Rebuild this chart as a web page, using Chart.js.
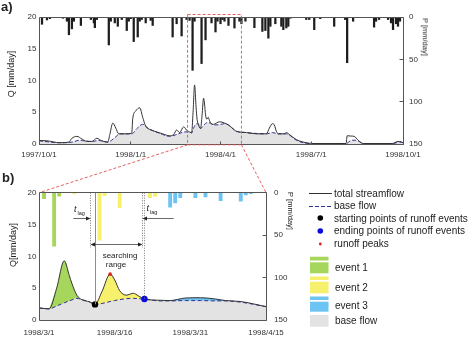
<!DOCTYPE html>
<html><head><meta charset="utf-8">
<script src="https://cdn.jsdelivr.net/npm/chart.js@4/dist/chart.umd.min.js"></script>
<style>
html,body{margin:0;padding:0;background:#fff;}
#wrap{position:relative;width:474px;height:341px;overflow:hidden;font-family:"Liberation Sans",Arial,sans-serif;color:#222;}
canvas{position:absolute;left:0;}
.t{position:absolute;white-space:nowrap;line-height:1;}
.c{transform:translate(-50%,-50%);}
.rl{transform:translate(-50%,-50%) rotate(-90deg);}
.rr{transform:translate(-50%,-50%) rotate(90deg);}
.lg{position:absolute;left:334px;font-size:10px;line-height:1;transform:translateY(-50%);white-space:nowrap;color:#222;}
</style></head><body>
<div id="wrap">
<canvas id="ca" width="474" height="170" style="top:0"></canvas>
<canvas id="cb" width="474" height="171" style="top:170px"></canvas>
<canvas id="ov" width="474" height="341" style="top:0;pointer-events:none"></canvas>
<div class="t" style="left:1px;top:0px;font-size:13px;font-weight:bold">a)</div>
<div class="t" style="left:2px;top:171px;font-size:13px;font-weight:bold">b)</div>
<div class="t rl" style="left:11px;top:74px;font-size:9px">Q [mm/day]</div>
<div class="t rr" style="left:425px;top:37px;font-size:7.5px">P [mm/day]</div>
<div class="t rl" style="left:13px;top:245px;font-size:9px">Q[mm/day]</div>
<div class="t rr" style="left:290px;top:211px;font-size:7.5px">P [mm/day]</div>
<div class="t" style="left:74px;top:205px;font-size:9px;font-style:italic">t</div>
<div class="t" style="left:77.5px;top:210.5px;font-size:5.5px">lag</div>
<div class="t" style="left:146.5px;top:204px;font-size:9px;font-style:italic">t</div>
<div class="t" style="left:150px;top:209.5px;font-size:5.5px">lag</div>
<div class="t c" style="left:120px;top:256px;font-size:8px">searching</div>
<div class="t c" style="left:116px;top:264.5px;font-size:8px">range</div>
<div class="lg" style="top:193.5px">total streamflow</div>
<div class="lg" style="top:206px">base flow</div>
<div class="lg" style="top:218.5px">starting points of runoff events</div>
<div class="lg" style="top:231px">ending points of runoff events</div>
<div class="lg" style="top:244px">runoff peaks</div>
<div class="lg" style="top:267.5px;left:335px">event 1</div>
<div class="lg" style="top:287.5px;left:335px">event 2</div>
<div class="lg" style="top:306px;left:335px">event 3</div>
<div class="lg" style="top:321px;left:335px">base flow</div>
</div>
<script>
// ---------- Panel a data (day 0 = 1997/10/1) ----------
const aTickDays = [0, 92, 182, 273, 365];
const aTickLabels = ['1997/10/1', '1998/1/1', '1998/4/1', '1998/7/1', '1998/10/1'];
const aQDays = [0,8,21,30,33,38,43,47,53,58,63,69,71,74,77,80,87,93,94,97,101,104,107,111,116,124,131,135,138,141,145,149,151,153,154.5,156,157.5,158.5,159.5,162,163.5,165,166,167,168.3,169.7,170.7,172,175,181,186,190,196,198,208,218,228,231,234,236,238,240,246,248,251,258,265,275,308,309,313,316,320,325,354,360,363,365];
const aQ = [0.55,0.5,0.2,0.3,0.9,1.2,0.8,0.45,0.4,0.9,0.5,0.3,1.5,3.3,2.5,1.6,1.6,1.7,4.0,5.2,5.7,4.2,2.8,2.3,2.0,1.6,1.3,1.5,2.2,1.8,2.7,2.0,1.9,1.75,5.0,9.3,5.8,3.9,3.2,2.45,4.5,7.2,6.3,4.6,3.9,4.2,3.8,3.3,3.1,3.5,3.3,3.0,2.2,2.0,1.8,1.6,1.6,2.5,3.2,3.0,2.0,1.6,1.6,1.8,1.5,0.7,0.3,0.08,0.08,1.3,1.25,1.2,0.6,0.08,0.08,0.4,0.35,0.2];
const aBaseDays = [0,21,33,41,47,53,60,69,76,81,93,98,104,110,116,124,131,138,146,151,153,155,157.5,159.5,162,165,168.3,172,175,181,186,190,196,198,208,228,234,240,248,258,265,275,308,312,316,320,325,354,362,365];
const aBase = [0.5,0.2,0.3,0.6,0.45,0.4,0.55,0.3,1.0,1.6,1.6,2.4,3.1,2.4,2.0,1.5,1.2,1.5,1.9,1.9,1.75,2.5,3.15,3.2,2.45,2.9,3.35,3.3,3.0,3.05,3.2,3.0,2.2,2.0,1.8,1.6,1.8,1.6,1.6,0.6,0.2,0.05,0.05,0.5,0.6,0.5,0.05,0.05,0.3,0.2];
const aPDays = [3,8,11,24,28,30,33,35,42,52,55,56,58,70,72,76,79,83,88,90,92,95,99,101,103,107,112,114,134,138,143,148,151,154,156,163,167,173,177,179,182,184,186,190,196,201,203,207,216,224,227,230,232,237,243,245,248,250,252,268,271,276,282,296,307,309,315,336,338,341,350,353,355,358,360,362];
const aP = [8.6,3.5,2,1.5,5,21,14,5,10,3,7,12.6,3,33,5,7,11,3,16,5,2,29,23.6,5,3,7,4,10,23.6,8,22.4,3,4,63,5,55,27,7,17.7,5,8,3,5,10,13,5,8,5,12.6,17,16,25,11,8,11,15,13,11,1.5,3,3,15,2,11,3,54,5,12,5,3,3,7,15,8,11,5];
const qTicks = [0, 5, 10, 15, 20];
const pTicks = [0, 50, 100, 150];

// ---------- Panel b data (day 0 = 1998/3/1) ----------
const bTickDays = [0, 15, 30, 45];
const bTickLabels = ['1998/3/1', '1998/3/16', '1998/3/31', '1998/4/15'];
const bDays = [0,2,3.5,5,6,6.5,7.5,8.5,10,11.1,12.5,14.1,15,16,17.3,18.7,19.7,20.9,24,26,29,32,35,37,40,45];
const bQ    = [1.9,1.75,5.0,9.3,7.0,5.8,3.9,3.2,2.85,2.45,4.5,7.2,6.3,4.6,3.9,4.2,3.8,3.3,3.1,3.05,3.45,3.5,3.3,3.05,2.9,2.1];
const bBase = [1.9,1.75,2.2,2.7,3.0,3.15,3.4,3.2,2.85,2.45,2.6,2.9,3.05,3.2,3.35,3.4,3.35,3.3,3.0,3.0,3.05,3.05,3.0,3.0,2.8,2.1];
const bEventStart = [2, 11.1, 26];
const bEventEnd = [8.5, 20.9, 37];
const bGreenDays = [1, 3, 4];
const bGreenP = [7, 63, 4];
const bYellowDays = [7, 12, 13, 16, 22, 23];
const bYellowP = [1.5, 56, 3.5, 17.6, 6, 4.5];
const bBlueDays = [26, 27, 28, 31, 33, 36, 40, 41, 42];
const bBlueP = [17, 12, 6, 6, 5, 9.5, 10, 2.5, 1];
const bStartDay = [11.1], bStartQ = [2.45];
const bEndDay = [20.9], bEndQ = [3.3];
const bPeakDay = [14.1], bPeakQ = [7.2];

// ---------- styles ----------
const GREEN = '#a6d65c', YELLOW = '#f6f06c', BLUE = '#6dc3f2', GRAY = '#e3e3e3';
const QCOL = '#333333', BASECOL = '#2e3192';
Chart.defaults.font.family = '"Liberation Sans", Arial, sans-serif';
Chart.defaults.color = '#333';

const pts = (xs, ys) => xs.map((x, i) => ({x: x, y: ys[i]}));

const framePlugin = {
  id: 'frame',
  afterDatasetsDraw(chart, args, opts) {
    const ctx = chart.ctx, a = chart.chartArea;
    const L = Math.floor(a.left) + 0.5, R = Math.floor(a.right) + 0.5, T = Math.floor(a.top) + 0.5, B = Math.floor(a.bottom) + 0.5;
    ctx.save();
    ctx.strokeStyle = '#555'; ctx.lineWidth = 1;
    ctx.beginPath();
    ctx.moveTo(L, T); ctx.lineTo(R, T); ctx.lineTo(R, B); ctx.lineTo(L, B); ctx.closePath();
    const y2 = chart.scales.y2, xs = chart.scales.x;
    pTicks.forEach(v => { const p = Math.floor(y2.getPixelForValue(v)) + 0.5; ctx.moveTo(R - 4, p); ctx.lineTo(R, p); });
    (opts.xt || []).forEach(v => { const p = Math.floor(xs.getPixelForValue(v)) + 0.5; ctx.moveTo(p, B); ctx.lineTo(p, B - 3); });
    ctx.stroke();
    ctx.restore();
  }
};

function scalesFor(xMax, tickDays, tickLabels, leftW, rightW, botH, xPad, rPad) {
  return {
    x: {type: 'linear', min: 0, max: xMax, offset: false,
      grid: {display: false, drawTicks: false}, border: {display: false},
      afterBuildTicks: s => { s.ticks = tickDays.map(v => ({value: v})); },
      afterFit: s => { s.height = botH; },
      ticks: {autoSkip: false, maxRotation: 0, padding: xPad, font: {size: 8}, color: '#333',
        callback: v => { const i = tickDays.indexOf(v); return i >= 0 ? tickLabels[i] : ''; }}},
    y: {type: 'linear', position: 'left', min: 0, max: 20,
      grid: {display: false, drawTicks: false}, border: {display: false},
      afterBuildTicks: s => { s.ticks = qTicks.map(v => ({value: v})); },
      afterFit: s => { s.width = leftW; },
      ticks: {padding: 2.5, font: {size: 8}, color: '#333'}},
    y2: {type: 'linear', position: 'right', min: 0, max: 150, reverse: true,
      grid: {display: false, drawTicks: false}, border: {display: false},
      afterBuildTicks: s => { s.ticks = pTicks.map(v => ({value: v})); },
      afterFit: s => { s.width = rightW; },
      ticks: {padding: rPad, font: {size: 8}, color: '#333'}}
  };
}

const common = {
  responsive: false, animation: false, events: [],
  plugins: {legend: {display: false}, tooltip: {enabled: false}}
};

// ---------- Chart a ----------
const chartA = new Chart(document.getElementById('ca'), {
  type: 'line',
  data: {datasets: [
    {data: pts(aBaseDays, aBase), yAxisID: 'y', borderWidth: 0, backgroundColor: GRAY, fill: 'origin', pointRadius: 0, cubicInterpolationMode: 'monotone', order: 10},
    {type: 'bar', data: pts(aPDays, aP), yAxisID: 'y2', backgroundColor: '#1e1e1e', barThickness: 1.6, order: 5},
    {data: pts(aBaseDays, aBase), yAxisID: 'y', borderColor: BASECOL, borderWidth: 1, borderDash: [4, 2], fill: false, pointRadius: 0, cubicInterpolationMode: 'monotone', order: 2},
    {data: pts(aQDays, aQ), yAxisID: 'y', borderColor: QCOL, borderWidth: 1, fill: false, pointRadius: 0, cubicInterpolationMode: 'monotone', order: 1}
  ]},
  options: Object.assign({}, common, {
    layout: {padding: {top: 17, left: 0, right: 0, bottom: 0}},
    scales: scalesFor(365, aTickDays, aTickLabels, 39, 71, 26, 5.5, 6),
    plugins: Object.assign({}, common.plugins, {frame: {xt: aTickDays}})
  }),
  plugins: [framePlugin]
});

// ---------- Chart b ----------
const evPts = (k) => pts(bDays, bQ).filter(p => p.x >= bEventStart[k] && p.x <= bEventEnd[k]);
const bAnn = {
  id: 'bann',
  afterDatasetsDraw(chart) {
    const ctx = chart.ctx, a = chart.chartArea, xs = chart.scales.x, ys = chart.scales.y;
    const px = d => xs.getPixelForValue(d), py = q => ys.getPixelForValue(q);
    const line = (x1, y1, x2, y2) => { ctx.beginPath(); ctx.moveTo(x1, y1); ctx.lineTo(x2, y2); ctx.stroke(); };
    const head = (x, y, dir) => { ctx.beginPath(); ctx.moveTo(x, y); ctx.lineTo(x - dir * 4.5, y - 2); ctx.lineTo(x - dir * 4.5, y + 2); ctx.closePath(); ctx.fill(); };
    ctx.save();
    ctx.strokeStyle = '#8c8c8c'; ctx.lineWidth = 1;
    const xs0 = Math.round(px(bStartDay[0])) + 0.5;
    line(xs0, a.top, xs0, py(bStartQ[0]));
    ctx.setLineDash([1, 1.5]); ctx.strokeStyle = '#7a7a7a';
    const xd1 = Math.round(px(10.1)) + 0.5, xd2 = Math.round(px(20.4)) + 0.5, xd3 = Math.round(px(bEndDay[0])) + 0.5;
    line(xd1, a.top, xd1, py(11.3));
    line(xd2, a.top, xd2, py(11.3));
    line(xd3, a.top, xd3, py(bEndQ[0]));
    ctx.setLineDash([]);
    ctx.strokeStyle = '#444'; ctx.fillStyle = '#222'; ctx.lineWidth = 0.8;
    const yl = Math.round(py(16)) + 0.5, ys2 = Math.round(py(12)) + 0.5;
    line(px(6.8), yl, xd1 - 2, yl); head(xd1, yl, 1);
    line(px(26.7), yl, xd2 + 2, yl); head(xd2, yl, -1);
    line(xd1 + 2, ys2, xd2 - 2, ys2); head(xd1, ys2, -1); head(xd2, ys2, 1);
    ctx.restore();
  }
};

const chartB = new Chart(document.getElementById('cb'), {
  type: 'line',
  data: {datasets: [
    {data: pts(bDays, bBase), yAxisID: 'y', borderWidth: 0, backgroundColor: GRAY, fill: 'origin', pointRadius: 0, cubicInterpolationMode: 'monotone', order: 10},
    {data: evPts(0), yAxisID: 'y', borderWidth: 0, backgroundColor: GREEN, fill: {target: 0}, pointRadius: 0, cubicInterpolationMode: 'monotone', order: 9},
    {data: evPts(1), yAxisID: 'y', borderWidth: 0, backgroundColor: YELLOW, fill: {target: 0}, pointRadius: 0, cubicInterpolationMode: 'monotone', order: 9},
    {data: evPts(2), yAxisID: 'y', borderWidth: 0, backgroundColor: BLUE, fill: {target: 0}, pointRadius: 0, cubicInterpolationMode: 'monotone', order: 9},
    {type: 'bar', data: pts(bGreenDays, bGreenP), yAxisID: 'y2', backgroundColor: GREEN, barThickness: 3.2, grouped: false, order: 5},
    {type: 'bar', data: pts(bYellowDays, bYellowP), yAxisID: 'y2', backgroundColor: YELLOW, barThickness: 3.2, grouped: false, order: 5},
    {type: 'bar', data: pts(bBlueDays, bBlueP), yAxisID: 'y2', backgroundColor: BLUE, barThickness: 3.2, grouped: false, order: 5},
    {data: pts(bDays, bBase), yAxisID: 'y', borderColor: BASECOL, borderWidth: 1, borderDash: [4, 2.5], fill: false, pointRadius: 0, cubicInterpolationMode: 'monotone', order: 2},
    {data: pts(bDays, bQ), yAxisID: 'y', borderColor: QCOL, borderWidth: 1, fill: false, pointRadius: 0, cubicInterpolationMode: 'monotone', order: 1},
    {data: pts(bStartDay, bStartQ), yAxisID: 'y', showLine: false, pointRadius: 3.2, pointBackgroundColor: '#000', pointBorderWidth: 0, order: 0},
    {data: pts(bEndDay, bEndQ), yAxisID: 'y', showLine: false, pointRadius: 3.2, pointBackgroundColor: '#0a0ae0', pointBorderWidth: 0, order: 0},
    {data: pts(bPeakDay, bPeakQ), yAxisID: 'y', showLine: false, pointRadius: 1.8, pointBackgroundColor: '#e02020', pointBorderWidth: 0, order: 0}
  ]},
  options: Object.assign({}, common, {
    layout: {padding: {top: 22.7, left: 0, right: 0, bottom: 0}},
    scales: scalesFor(45, bTickDays, bTickLabels, 39, 208, 21, 7.7, 8),
    plugins: Object.assign({}, common.plugins, {frame: {xt: []}})
  }),
  plugins: [bAnn, framePlugin]
});

// ---------- overlay: zoom box, connectors, legend markers ----------
(function () {
  const ctx = document.getElementById('ov').getContext('2d');
  const xa = chartA.scales.x, aa = chartA.chartArea, ab = chartB.chartArea;
  const L = xa.getPixelForValue(149), R = xa.getPixelForValue(203);
  const T = aa.top - 2.5, B = aa.bottom + 0.8;
  const BT = 170 + ab.top;
  ctx.save();
  ctx.strokeStyle = '#e2514c'; ctx.lineWidth = 0.9; ctx.setLineDash([3, 2]);
  ctx.strokeRect(L, T, R - L, B - T);
  ctx.beginPath(); ctx.moveTo(L, B); ctx.lineTo(ab.left, BT); ctx.stroke();
  ctx.beginPath(); ctx.moveTo(R, B); ctx.lineTo(ab.right, BT); ctx.stroke();
  ctx.restore();

  ctx.save();
  ctx.strokeStyle = QCOL; ctx.lineWidth = 1;
  ctx.beginPath(); ctx.moveTo(309, 193.5); ctx.lineTo(332, 193.5); ctx.stroke();
  ctx.strokeStyle = BASECOL; ctx.setLineDash([4, 2]);
  ctx.beginPath(); ctx.moveTo(309, 206.5); ctx.lineTo(332, 206.5); ctx.stroke();
  ctx.setLineDash([]);
  const dot = (x, y, r, c) => { ctx.fillStyle = c; ctx.beginPath(); ctx.arc(x, y, r, 0, Math.PI * 2); ctx.fill(); };
  dot(320.3, 218, 2.8, '#000');
  dot(320.3, 231, 2.8, '#0a0ae0');
  dot(320.3, 244, 1.4, '#e02020');
  ctx.fillStyle = GREEN; ctx.fillRect(310, 256.7, 18.5, 3.8); ctx.fillRect(310, 262.3, 18.5, 11);
  ctx.fillStyle = YELLOW; ctx.fillRect(310, 276.5, 18.5, 3.5); ctx.fillRect(310, 281.7, 18.5, 11.6);
  ctx.fillStyle = BLUE; ctx.fillRect(310, 296.5, 18.5, 3.5); ctx.fillRect(310, 301.7, 18.5, 10);
  ctx.fillStyle = GRAY; ctx.fillRect(310, 315, 18.5, 11.7);
  ctx.restore();
})();
</script>
</body></html>
